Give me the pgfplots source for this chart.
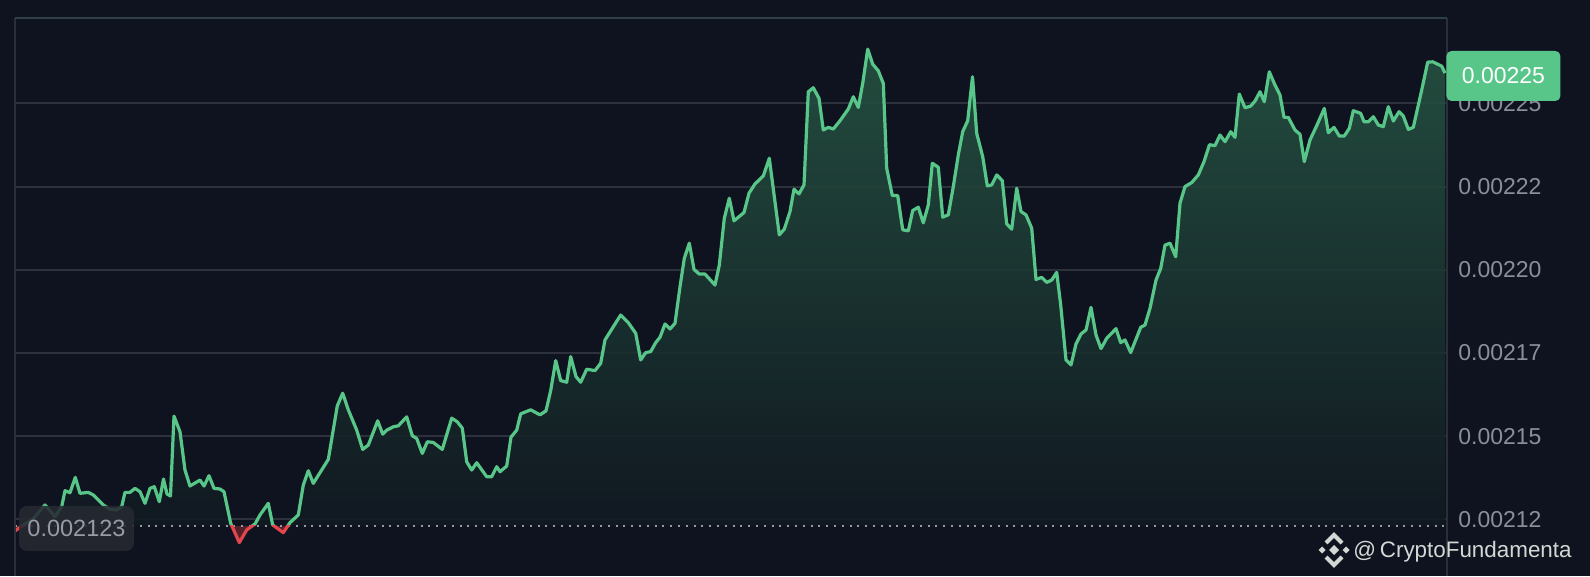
\documentclass[border=0pt]{standalone}
\usepackage{pgfplots}
\usepackage{pgfplotstable}
\pgfplotsset{compat=1.18}
\usepackage{fontspec}
\setmainfont{Liberation Sans}
\definecolor{bg}{RGB}{14,19,31}
\definecolor{gridc}{RGB}{44,49,60}
\definecolor{framec}{RGB}{42,47,58}
\definecolor{topc}{RGB}{46,64,68}
\definecolor{upc}{RGB}{88,198,137}
\definecolor{downc}{RGB}{226,70,76}
\definecolor{labc}{RGB}{138,143,153}
\definecolor{filltop}{RGB}{38,84,67}
\definecolor{fillbot}{RGB}{16,23,32}
\definecolor{redfill}{RGB}{92,34,44}
\definecolor{boxc}{RGB}{38,41,50}
\definecolor{boxtxt}{RGB}{150,155,165}
\definecolor{dotc}{RGB}{150,155,165}
\definecolor{wmc}{RGB}{212,216,212}

\pgfplotstableread{
x y
15 0.0021215
22 0.0021230
33 0.0021251
45 0.0021293
55 0.0021258
61.7 0.0021288
65 0.0021336
70 0.0021330
75.3 0.0021376
80 0.0021328
88.3 0.0021331
93.3 0.0021323
103.3 0.0021293
110 0.0021280
116.7 0.0021278
121.7 0.0021288
125 0.0021331
130 0.0021331
135 0.0021343
140 0.0021333
145 0.0021298
150 0.0021343
154.3 0.0021348
159.3 0.0021303
163.5 0.0021371
167 0.0021326
170.5 0.0021320
174 0.0021560
180 0.0021513
185 0.0021398
190 0.0021350
200 0.0021368
204 0.0021350
209 0.0021381
214 0.0021343
220 0.0021341
224 0.0021333
230.7 0.0021238
239.3 0.0021180
246.7 0.0021218
255 0.0021236
260 0.0021263
268.3 0.0021298
272.7 0.0021233
283.3 0.0021210
290 0.0021240
298.3 0.0021263
303.3 0.0021353
308.3 0.0021396
313.3 0.0021358
328.3 0.0021430
337.3 0.0021591
342.7 0.0021629
348.3 0.0021579
356.7 0.0021518
362.7 0.0021460
368.3 0.0021473
377.7 0.0021546
382.7 0.0021506
386.7 0.0021518
393.3 0.0021528
398.3 0.0021531
406.7 0.0021558
412.3 0.0021501
416.7 0.0021493
422.3 0.0021448
427.3 0.0021483
433.3 0.0021481
442.3 0.0021460
451.7 0.0021554
457.3 0.0021543
462.3 0.0021524
466.7 0.0021423
471.7 0.0021398
476.7 0.0021420
486.7 0.0021378
491.7 0.0021378
496.7 0.0021408
500 0.0021393
506.7 0.0021410
511 0.0021497
516.7 0.0021518
520.7 0.0021567
530.7 0.0021579
540 0.0021564
546 0.0021576
550.7 0.0021637
555.7 0.0021727
560.7 0.0021667
566.7 0.0021662
570.7 0.0021739
576 0.0021679
580.7 0.0021662
586.7 0.0021701
595 0.0021697
600.7 0.0021719
605 0.0021789
612.7 0.0021826
620.7 0.0021864
628.3 0.0021841
635.7 0.0021809
640.7 0.0021729
645.7 0.0021751
650.7 0.0021754
655.7 0.0021781
660 0.0021797
665 0.0021837
670 0.0021822
675 0.0021839
680 0.0021949
684.3 0.0022034
689.3 0.0022080
694 0.0022001
699.3 0.0021987
705 0.0021987
715 0.0021954
719.3 0.0022014
724.3 0.0022155
729.3 0.0022215
734 0.0022147
744 0.0022172
749 0.0022230
755 0.0022258
763.3 0.0022282
769.3 0.0022335
779.3 0.0022105
784.3 0.0022122
790 0.0022175
794 0.0022242
799 0.0022228
804 0.0022255
808.3 0.0022535
813.3 0.0022547
819 0.0022515
823.3 0.0022420
828.3 0.0022428
833.3 0.0022423
840 0.0022448
848.3 0.0022483
853.3 0.0022520
858.3 0.0022488
862.7 0.0022560
867.7 0.0022663
872.7 0.0022618
878.3 0.0022598
883.3 0.0022560
886.7 0.0022305
892.3 0.0022223
897.7 0.0022223
902.7 0.0022120
908.3 0.0022117
912.7 0.0022178
918.3 0.0022188
923.3 0.0022141
928.3 0.0022195
932.3 0.0022320
938.3 0.0022308
942.7 0.0022158
948.3 0.0022165
953.3 0.0022250
958.3 0.0022345
962.7 0.0022415
967.7 0.0022448
972.5 0.0022580
976.7 0.0022410
982.7 0.0022340
987.3 0.0022252
991.7 0.0022255
996.7 0.0022285
1002.3 0.0022268
1006.7 0.0022138
1011.7 0.0022122
1016.7 0.0022245
1021 0.0022175
1026 0.0022165
1031.7 0.0022125
1036 0.0021971
1041.7 0.0021977
1046.7 0.0021962
1051.7 0.0021969
1056.7 0.0021992
1060.7 0.0021894
1066 0.0021729
1071 0.0021714
1076 0.0021777
1081 0.0021807
1086 0.0021819
1091 0.0021887
1096 0.0021804
1101 0.0021763
1106.7 0.0021794
1116 0.0021823
1120.7 0.0021781
1125 0.0021789
1130.7 0.0021751
1140.7 0.0021827
1145 0.0021834
1150 0.0021884
1156 0.0021969
1160.7 0.0022004
1165 0.0022074
1170 0.0022080
1175.7 0.0022039
1180 0.0022200
1185 0.0022250
1191.7 0.0022262
1198.3 0.0022285
1204 0.0022325
1209.5 0.0022376
1215 0.0022373
1220 0.0022405
1225 0.0022385
1230.7 0.0022415
1235 0.0022398
1239.3 0.0022528
1245 0.0022487
1250.7 0.0022492
1255 0.0022507
1260 0.0022535
1264.3 0.0022505
1269.3 0.0022595
1275 0.0022555
1280 0.0022525
1284 0.0022458
1288.3 0.0022458
1295 0.0022420
1300 0.0022407
1304.3 0.0022325
1310 0.0022390
1317.3 0.0022437
1324.3 0.0022485
1328.3 0.0022412
1334 0.0022428
1339.3 0.0022402
1344.3 0.0022402
1349.3 0.0022425
1353.3 0.0022478
1360.7 0.0022470
1364 0.0022445
1368.3 0.0022445
1373.3 0.0022460
1378.3 0.0022435
1383.3 0.0022430
1388.3 0.0022490
1393.3 0.0022447
1399 0.0022475
1403.3 0.0022462
1408.3 0.0022422
1413.3 0.0022428
1421.7 0.0022540
1427.7 0.0022624
1432.7 0.0022625
1441.7 0.0022612
1445 0.0022591
}\pricedata

\begin{document}
\begin{tikzpicture}
\fill[bg] (0pt,0pt) rectangle (795pt,288pt);
\begin{axis}[
  at={(7.5pt,0pt)}, anchor=south west,
  scale only axis, width=716pt, height=278.75pt,
  xmin=15, xmax=1447, ymin=0.00210796, ymax=0.00227552,
  axis line style={draw=none},
  axis on top=false,
  xtick=\empty,
  scaled y ticks=false,
  ytick={0.002125,0.00215,0.002175,0.0022,0.002225,0.00225},
  yticklabels={0.00212,0.00215,0.00217,0.00220,0.00222,0.00225},
  yticklabel pos=right,
  major tick length=0pt,
  yticklabel style={anchor=west, inner sep=0pt, xshift=5.5pt, text=labc,
    font=\fontsize{11.5}{13}\selectfont},
  /pgf/number format/assume math mode=true,
  ymajorgrids, major grid style={draw=gridc, line width=1pt},
  clip=true,
]
\begin{scope}
  \clip (axis cs:15,0.0021232) rectangle (axis cs:1447,0.0023);
  \addplot[draw=none, top color=filltop, bottom color=fillbot, fill opacity=0.88]
    table[x=x,y=y] {\pricedata} -- (axis cs:1445,0.002123) -- (axis cs:15,0.002123) -- cycle;
\end{scope}
\begin{scope}
  \clip (axis cs:15,0.0021227) rectangle (axis cs:1447,0.0021);
  \addplot[draw=none, fill=redfill, fill opacity=0.9]
    table[x=x,y=y] {\pricedata} -- (axis cs:1445,0.002123) -- (axis cs:15,0.002123) -- cycle;
\end{scope}
\draw[dotc, line width=1pt, dash pattern=on 1pt off 2.9pt] (axis cs:15,0.002123) -- (axis cs:1447,0.002123);
\begin{scope}
  \clip (axis cs:15,0.002123) rectangle (axis cs:1447,0.0023);
  \addplot[upc, line width=1.6pt, line join=round] table[x=x,y=y] {\pricedata};
\end{scope}
\begin{scope}
  \clip (axis cs:15,0.002123) rectangle (axis cs:1447,0.0021);
  \addplot[downc, line width=1.6pt, line join=round] table[x=x,y=y] {\pricedata};
\end{scope}
\end{axis}
\begin{scope}[x=0.5pt,y=0.5pt]
% frame
\draw[framec, line width=1pt] (15,0) -- (15,557.5);
\draw[framec, line width=1pt] (1447,0) -- (1447,557.5);
\draw[topc, line width=1pt] (15,557.5) -- (1447,557.5);
% baseline label box
\node[fill=boxc, fill opacity=0.88, text opacity=1, rounded corners=4pt, text=boxtxt,
  minimum width=57.5pt, minimum height=22.5pt, inner sep=0pt,
  font=\fontsize{11.75}{13}\selectfont] at (76.5,47.5) {0.002123};
% last price tag
\node[fill=upc, rounded corners=2.5pt, text=white,
  minimum width=57pt, minimum height=25pt, inner sep=0pt, anchor=west,
  font=\fontsize{11.5}{13}\selectfont] at (1446,500) {0.00225};
% watermark
\node[anchor=base west, inner sep=0pt, text=wmc, font=\fontsize{11.2}{13}\selectfont] at (1353,18.3) {@\,CryptoFundamenta};
\begin{scope}[shift={(1334,26)}]
  \fill[wmc] (0,5) -- (5,0) -- (0,-5) -- (-5,0) -- cycle;
  \fill[wmc] (-12,3.5) -- (-8.5,0) -- (-12,-3.5) -- (-15.5,0) -- cycle;
  \fill[wmc] (12,3.5) -- (15.5,0) -- (12,-3.5) -- (8.5,0) -- cycle;
  \draw[wmc, line width=2pt, line join=miter] (-8,7) -- (0,15) -- (8,7);
  \draw[wmc, line width=2pt, line join=miter] (-8,-7) -- (0,-15) -- (8,-7);
\end{scope}
\end{scope}
\end{tikzpicture}
\end{document}
